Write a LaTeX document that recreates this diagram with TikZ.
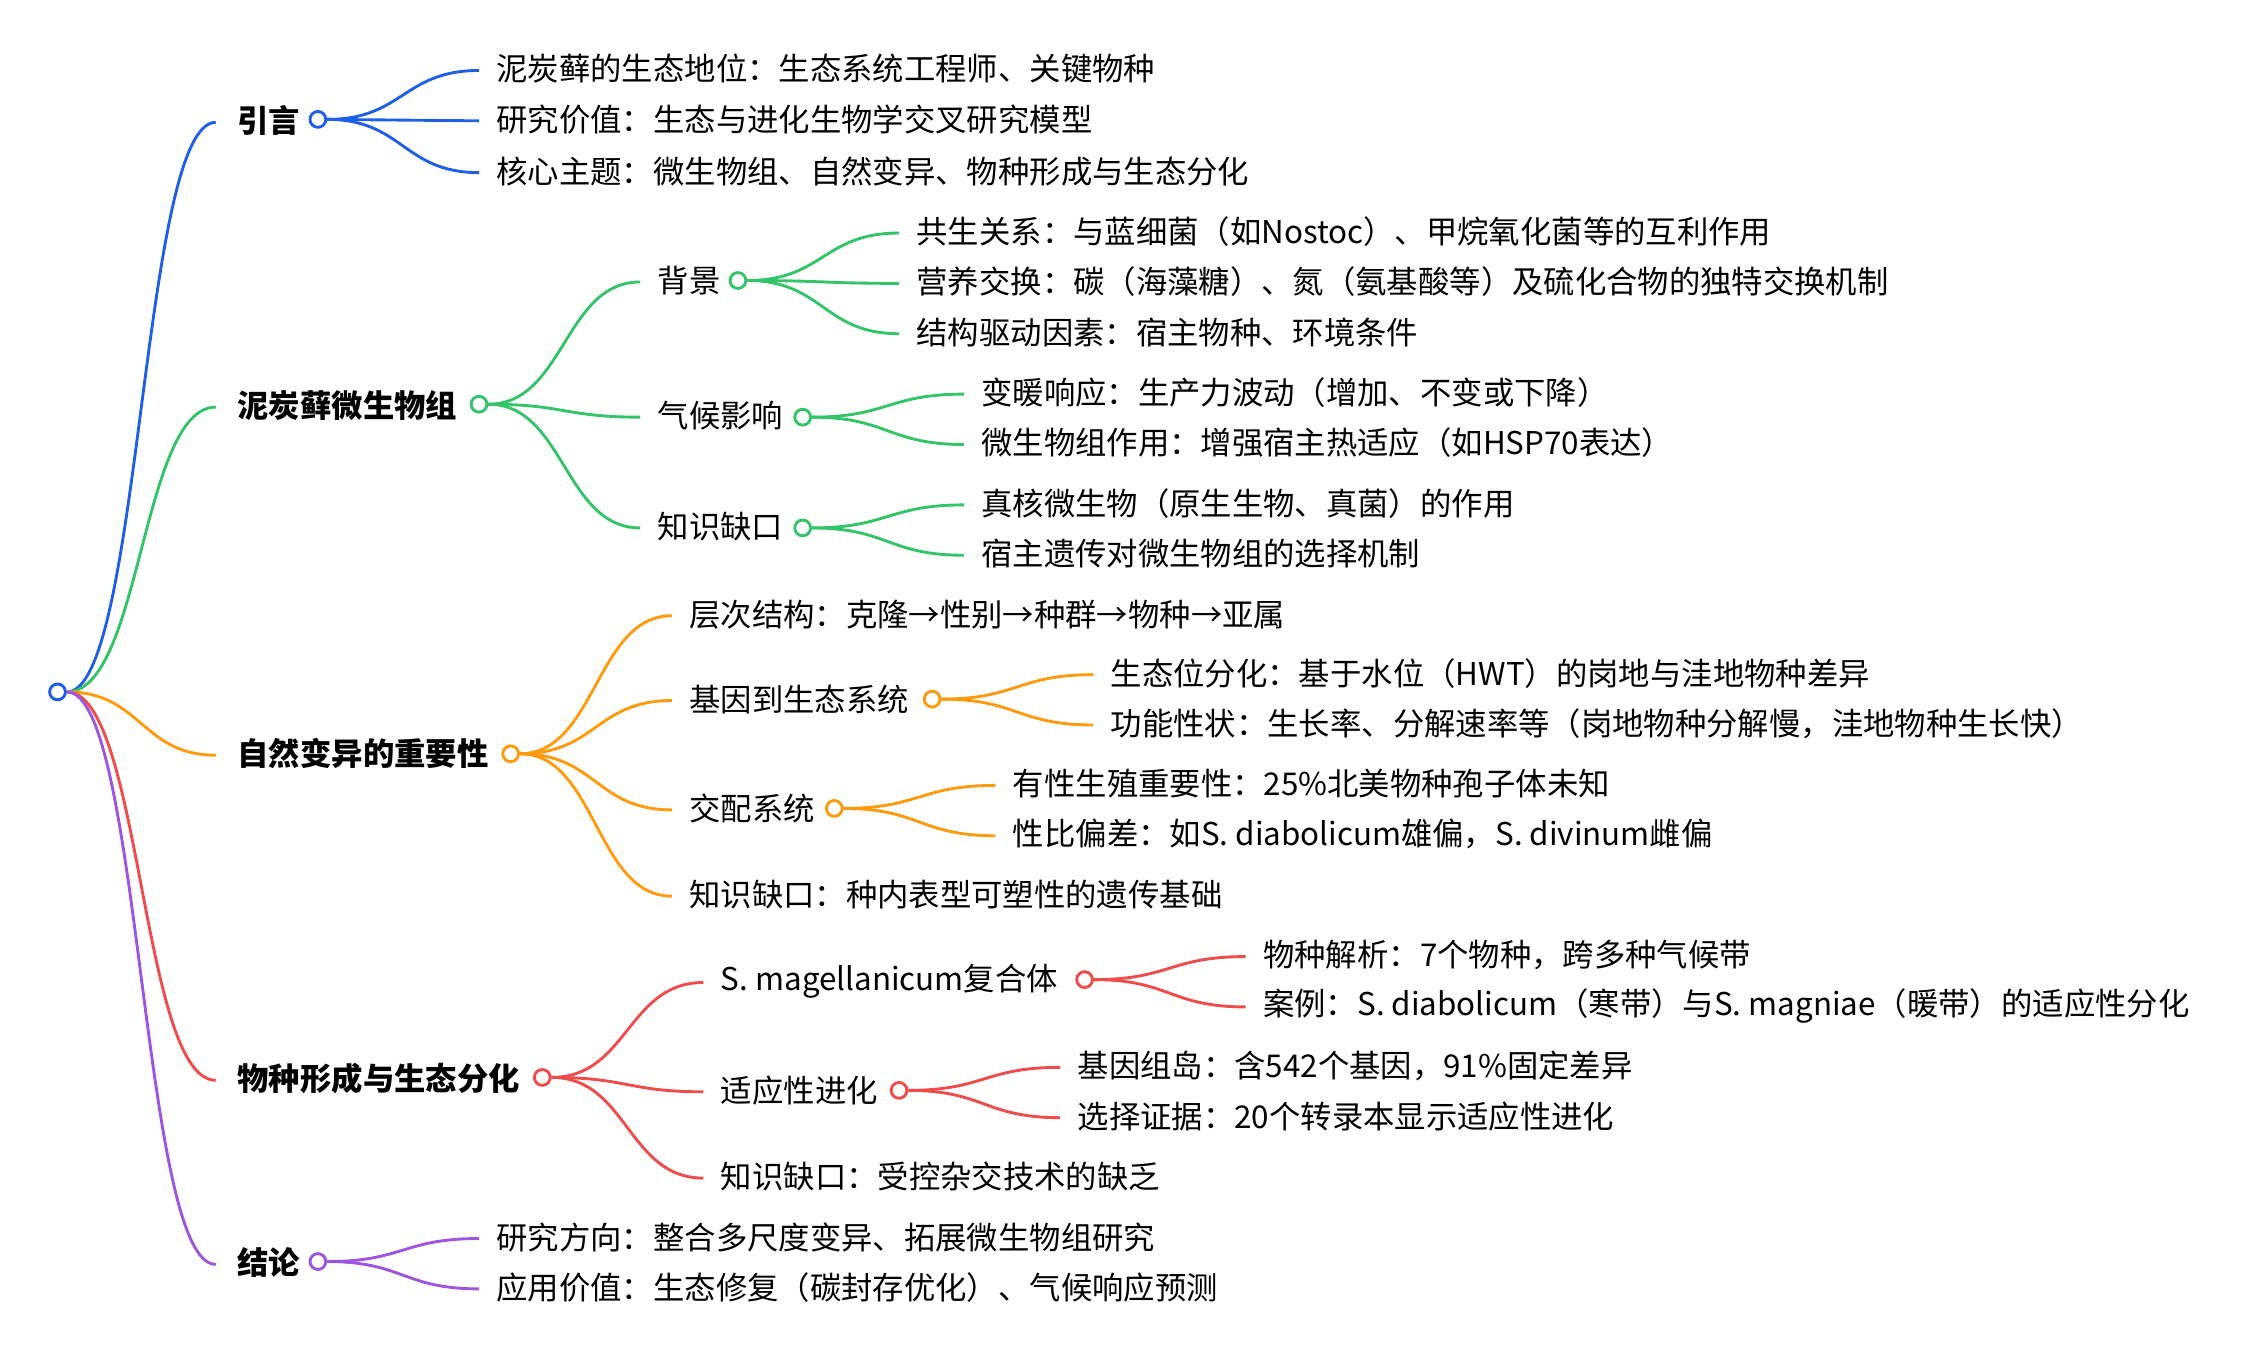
\documentclass[tikz,border=0pt]{standalone}
\usepackage{fontspec}
\setmainfont{Noto Sans CJK SC}
\usetikzlibrary{calc}
\definecolor{cb}{HTML}{1F5FE8}
\definecolor{cg}{HTML}{33C46A}
\definecolor{co}{HTML}{FF9A0D}
\definecolor{cr}{HTML}{F04B4B}
\definecolor{cp}{HTML}{9B55E0}
\begin{document}
\begin{tikzpicture}[x=1pt,y=-1pt,
  dot/.style={circle,draw=#1,fill=white,line width=2pt,inner sep=0pt,minimum size=11pt},
  ln/.style={draw=#1,line width=2pt},
  t/.style={anchor=west,inner sep=0pt,font=\fontsize{21.8}{24}\selectfont},
  tb/.style={anchor=west,inner sep=0pt,font=\fontsize{21.8}{24}\selectfont\bfseries}]
\useasboundingbox (0,0) rectangle (1560,945);
\newcommand\cv[3]{\draw[ln=#1] let \p1=(#2),\p2=(#3) in (\p1) .. controls ({0.5*\x1+0.5*\x2},\y1) and ({0.5*\x1+0.5*\x2},\y2) .. (\p2);}
% root
\node[dot=cb] (root) at (40,481) {};
\coordinate (e1) at (150,85); \coordinate (e2) at (150,283); \coordinate (e3) at (150,525);
\coordinate (e4) at (150,751); \coordinate (e5) at (150,879);
\cv{cb}{root.east}{e1} \cv{cg}{root.east}{e2} \cv{co}{root.east}{e3} \cv{cr}{root.east}{e4} \cv{cp}{root.east}{e5}
\node[tb] (n1) at (165,84) {引言};
\node[tb] (n2) at (165,282) {泥炭藓微生物组};
\node[tb] (n3) at (165,524) {自然变异的重要性};
\node[tb] (n4) at (165,750) {物种形成与生态分化};
\node[tb] (n5) at (165,878) {结论};
% 引言
\node[dot=cb] (d1) at (221,83) {};
\foreach \y/\s [count=\i] in {49/泥炭藓的生态地位：生态系统工程师、关键物种,84/研究价值：生态与进化生物学交叉研究模型,120/核心主题：微生物组、自然变异、物种形成与生态分化}{
  \coordinate (a\i) at (333,\y); \cv{cb}{d1.east}{a\i} \node[t] (ta\i) at (345,\y-1) {\s};}
% 微生物组
\node[dot=cg] (d2) at (333,281) {};
\coordinate (g1) at (445,196); \coordinate (g2) at (445,290); \coordinate (g3) at (445,367);
\cv{cg}{d2.east}{g1} \cv{cg}{d2.east}{g2} \cv{cg}{d2.east}{g3}
\node[t] (tg1) at (457,195) {背景}; \node[dot=cg] (dg1) at (513,195) {};
\node[t] (tg2) at (457,289) {气候影响}; \node[dot=cg] (dg2) at (558,290) {};
\node[t] (tg3) at (457,366) {知识缺口}; \node[dot=cg] (dg3) at (558,367) {};
\foreach \y/\s [count=\i] in {162/{共生关系：与蓝细菌（如Nostoc）、甲烷氧化菌等的互利作用},197/{营养交换：碳（海藻糖）、氮（氨基酸等）及硫化合物的独特交换机制},232/{结构驱动因素：宿主物种、环境条件}}{
  \coordinate (b\i) at (625,\y); \cv{cg}{dg1.east}{b\i} \node[t] (tb\i) at (637,\y-1) {\s};}
\foreach \y/\s [count=\i] in {274/{变暖响应：生产力波动（增加、不变或下降）},309/{微生物组作用：增强宿主热适应（如HSP70表达）}}{
  \coordinate (c\i) at (670,\y); \cv{cg}{dg2.east}{c\i} \node[t] (tc\i) at (682,\y-1) {\s};}
\foreach \y/\s [count=\i] in {351/{真核微生物（原生生物、真菌）的作用},386/{宿主遗传对微生物组的选择机制}}{
  \coordinate (k\i) at (670,\y); \cv{cg}{dg3.east}{k\i} \node[t] (tk\i) at (682,\y-1) {\s};}
% 自然变异
\node[dot=co] (d3) at (355,524) {};
\coordinate (o1) at (467,428); \coordinate (o2) at (467,487); \coordinate (o3) at (467,563); \coordinate (o4) at (467,623);
\cv{co}{d3.east}{o1} \cv{co}{d3.east}{o2} \cv{co}{d3.east}{o3} \cv{co}{d3.east}{o4}
\node[t] (to1) at (479,427) {层次结构：克隆→性别→种群→物种→亚属};
\node[t] (to2) at (479,486) {基因到生态系统}; \node[dot=co] (do2) at (648,486) {};
\node[t] (to3) at (479,562) {交配系统}; \node[dot=co] (do3) at (580,562) {};
\node[t] (to4) at (479,622) {知识缺口：种内表型可塑性的遗传基础};
\foreach \y/\s [count=\i] in {469/{生态位分化：基于水位（HWT）的岗地与洼地物种差异},504/{功能性状：生长率、分解速率等（岗地物种分解慢，洼地物种生长快）}}{
  \coordinate (p\i) at (760,\y); \cv{co}{do2.east}{p\i} \node[t] (tp\i) at (772,\y-1) {\s};}
\foreach \y/\s [count=\i] in {546/{有性生殖重要性：25\%北美物种孢子体未知},581/{性比偏差：如S. diabolicum雄偏，S. divinum雌偏}}{
  \coordinate (q\i) at (692,\y); \cv{co}{do3.east}{q\i} \node[t] (tq\i) at (704,\y-1) {\s};}
% 物种形成
\node[dot=cr] (d4) at (377,749) {};
\coordinate (r1) at (489,683); \coordinate (r2) at (489,759); \coordinate (r3) at (489,819);
\cv{cr}{d4.east}{r1} \cv{cr}{d4.east}{r2} \cv{cr}{d4.east}{r3}
\node[t] (tr1) at (501,682) {S. magellanicum复合体}; \node[dot=cr] (dr1) at (754,681) {};
\node[t] (tr2) at (501,758) {适应性进化}; \node[dot=cr] (dr2) at (625,758) {};
\node[t] (tr3) at (501,818) {知识缺口：受控杂交技术的缺乏};
\foreach \y/\s [count=\i] in {665/{物种解析：7个物种，跨多种气候带},700/{案例：S. diabolicum（寒带）与S. magniae（暖带）的适应性分化}}{
  \coordinate (s\i) at (866,\y); \cv{cr}{dr1.east}{s\i} \node[t] (ts\i) at (878,\y-1) {\s};}
\foreach \y/\s [count=\i] in {742/{基因组岛：含542个基因，91\%固定差异},777/{选择证据：20个转录本显示适应性进化}}{
  \coordinate (u\i) at (737,\y); \cv{cr}{dr2.east}{u\i} \node[t] (tu\i) at (749,\y-1) {\s};}
% 结论
\node[dot=cp] (d5) at (221,877) {};
\foreach \y/\s [count=\i] in {861/{研究方向：整合多尺度变异、拓展微生物组研究},896/{应用价值：生态修复（碳封存优化）、气候响应预测}}{
  \coordinate (v\i) at (333,\y); \cv{cp}{d5.east}{v\i} \node[t] (tv\i) at (345,\y-1) {\s};}
\end{tikzpicture}
\end{document}
